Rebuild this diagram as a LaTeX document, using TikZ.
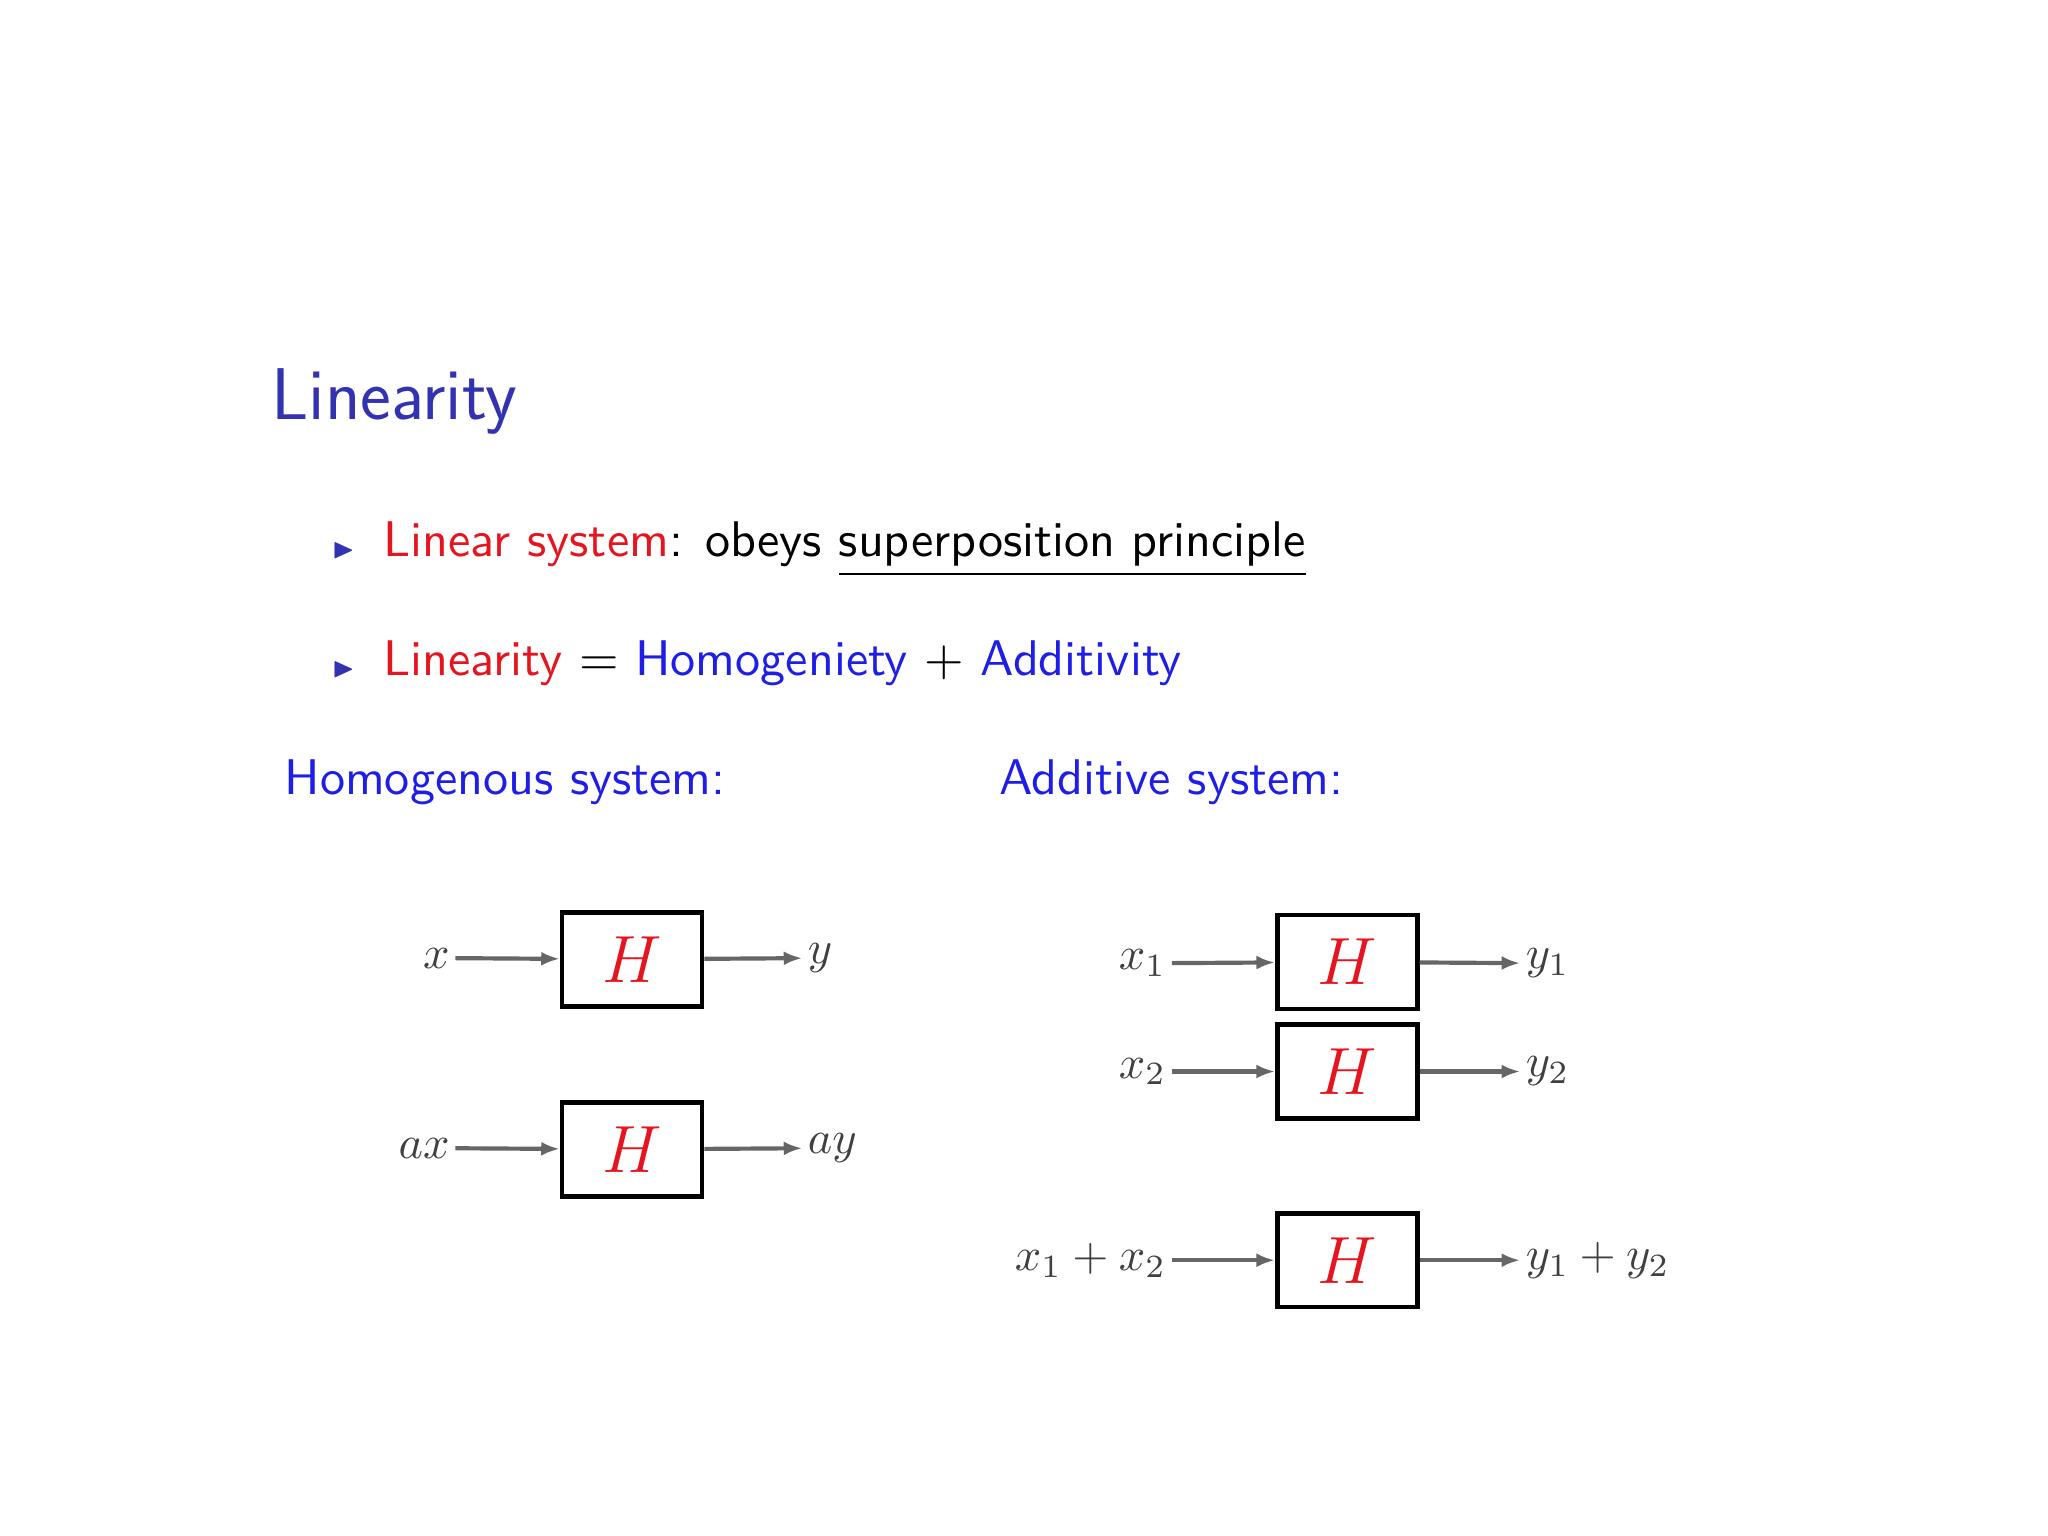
\documentclass[tikz,border=0pt]{standalone}
\usepackage{amsmath,amssymb}
\usetikzlibrary{arrows.meta}
\renewcommand{\familydefault}{\sfdefault}
\definecolor{ttl}{RGB}{51,51,178}
\definecolor{bb}{RGB}{30,30,230}
\definecolor{rr}{RGB}{230,20,30}
\begin{document}
\begin{tikzpicture}[x=0.01cm,y=-0.01cm,
  hbox/.style={draw,line width=1pt,minimum width=1.06cm,minimum height=0.71cm,inner sep=0pt,text=rr,font=\Large},
  sig/.style={-{Latex[length=4pt,width=3pt]},line width=0.9pt,gray!80!black},
  lab/.style={font=\normalsize,text=black!75,inner sep=1pt},
  txt/.style={font=\fontsize{10.8}{13}\selectfont,anchor=base west,inner sep=0pt}]
\useasboundingbox (0,0) rectangle (1552,1164);
\node[anchor=base west,inner sep=0pt,text=ttl,font=\fontsize{15.8}{19}\selectfont] (title) at (205,318) {Linearity};
\node[txt,text=ttl] (b1) at (250,422) {\tiny$\blacktriangleright$};
\node[txt] (t1) at (290,422) {\textcolor{rr}{Linear system}: obeys \underline{superposition principle}};
\node[txt,text=ttl] (b2) at (250,512) {\tiny$\blacktriangleright$};
\node[txt] (t2) at (290,512) {\textcolor{rr}{Linearity} $=$ \textcolor{bb}{Homogeniety} $+$ \textcolor{bb}{Additivity}};
\node[txt,text=bb] (hs) at (215,602) {Homogenous system:};
\node[txt,text=bb] (as) at (757,602) {Additive system:};
% left
\node[hbox] (h1) at (479,727) {$H$};
\node[hbox] (h2) at (479,871) {$H$};
\node[lab,anchor=east] (x) at (345,726) {$x$};
\node[lab,anchor=west] (y) at (608,726) {$y$};
\node[lab,anchor=east] (ax) at (345,870) {$ax$};
\node[lab,anchor=west] (ay) at (608,870) {$ay$};
\draw[sig] (x) -- (h1); \draw[sig] (h1) -- (y);
\draw[sig] (ax) -- (h2); \draw[sig] (h2) -- (ay);
% right
\node[hbox] (r1) at (1021,729) {$H$};
\node[hbox] (r2) at (1021,812) {$H$};
\node[hbox] (r3) at (1021,955) {$H$};
\node[lab,anchor=east] (x1) at (888,730) {$x_1$};
\node[lab,anchor=east] (x2) at (888,812) {$x_2$};
\node[lab,anchor=east] (x12) at (888,955) {$x_1+x_2$};
\node[lab,anchor=west] (y1) at (1152,730) {$y_1$};
\node[lab,anchor=west] (y2) at (1152,812) {$y_2$};
\node[lab,anchor=west] (y12) at (1152,955) {$y_1+y_2$};
\draw[sig] (x1) -- (r1); \draw[sig] (r1) -- (y1);
\draw[sig] (x2) -- (r2); \draw[sig] (r2) -- (y2);
\draw[sig] (x12) -- (r3); \draw[sig] (r3) -- (y12);
\end{tikzpicture}
\end{document}
